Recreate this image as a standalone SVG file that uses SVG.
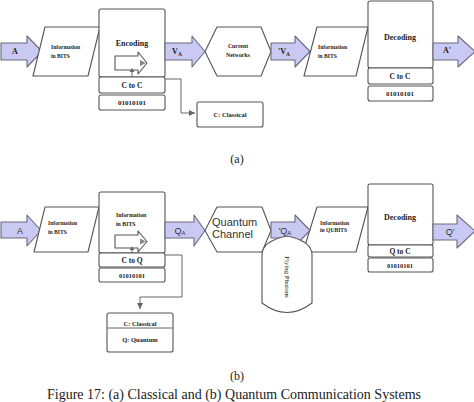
<svg xmlns="http://www.w3.org/2000/svg" width="474" height="402" viewBox="0 0 474 402">
<defs>
<style>
.bg{fill:#fff}
.arr{fill:#c9c9f3;stroke:#6a6a7a;stroke-width:1.1;stroke-linejoin:round}
.box{fill:#fff;stroke:#555;stroke-width:1.1;stroke-linejoin:round}
.line{fill:none;stroke:#666;stroke-width:1}
.sb{font-family:"Liberation Serif",serif;font-weight:bold;fill:#222;text-anchor:middle}
.sl{font-family:"Liberation Serif",serif;font-weight:bold;fill:#222}
.ss{font-family:"Liberation Sans",sans-serif;fill:#333;text-anchor:middle}
.cap{font-family:"Liberation Serif",serif;fill:#222;text-anchor:middle}
</style>
<marker id="ah" markerWidth="8" markerHeight="8" refX="6" refY="3" orient="auto" markerUnits="userSpaceOnUse">
<path d="M0,0 L6,3 L0,6 Z" fill="#666"/>
</marker>
</defs>
<rect class="bg" x="0" y="0" width="474" height="402"/>

<!-- ===== (a) ===== -->
<g id="a-arrow-A">
<path class="arr" d="M1,43 H27 V36 L42,51.5 L27,67 V60 H1 Z"/>
<text class="sb" x="15" y="54" font-size="8">A</text>
</g>
<g id="a-info1">
<polygon class="box" points="45,27 100,27 88,76 33,76"/>
<text class="sl" x="51" y="49" font-size="5.6">Information</text>
<text class="sl" x="51" y="58" font-size="5.6">in BITS</text>
</g>
<g id="a-encoding">
<rect class="box" x="99" y="9" width="66" height="68" rx="2"/>
<text class="sb" x="132" y="46" font-size="8">Encoding</text>
<path class="box" d="M115,56 H138 V52 L147,63 L138,74 V70 H115 Z"/>
<path d="M140,60 L146,63 L140,66 Z" fill="#888"/>
<path class="line" d="M132,77 V71"/>
<path d="M129.5,72 L132,68 L134.5,72 Z" fill="#666"/>
<rect class="box" x="99" y="77" width="66" height="16" rx="2"/>
<text class="sb" x="132" y="88" font-size="7.5">C to C</text>
<rect class="box" x="99" y="95" width="66" height="15" rx="2"/>
<text class="sb" x="132" y="105" font-size="7">01010101</text>
</g>
<g id="a-arrow-VA">
<path class="arr" d="M165,43 H192 V36 L205,51.5 L192,67 V60 H165 Z"/>
<text class="sb" x="177" y="54" font-size="8">V<tspan font-size="5.5" dy="2">A</tspan></text>
</g>
<g id="a-networks">
<polygon class="box" points="205,51.5 217,27 261,27 271,51.5 261,76 217,76"/>
<text class="sb" x="238" y="48" font-size="5.8">Current</text>
<text class="sb" x="238" y="57" font-size="5.8">Networks</text>
</g>
<g id="a-arrow-VA2">
<path class="arr" d="M271,43 H295 V36 L310,51.5 L295,67 V60 H271 Z"/>
<text class="sb" x="284" y="54" font-size="8">'V<tspan font-size="5.5" dy="2">A</tspan></text>
</g>
<g id="a-info2">
<polygon class="box" points="317,27 368,27 356,76 304,76"/>
<text class="sl" x="318" y="49" font-size="5.6">Information</text>
<text class="sl" x="318" y="58" font-size="5.6">in BITS</text>
</g>
<g id="a-decoding">
<rect class="box" x="368" y="1" width="65" height="67" rx="2"/>
<text class="sb" x="400" y="40" font-size="8">Decoding</text>
<rect class="box" x="368" y="68" width="65" height="16" rx="2"/>
<text class="sb" x="400" y="79" font-size="7.5">C to C</text>
<rect class="box" x="368" y="86" width="65" height="15" rx="2"/>
<text class="sb" x="400" y="96" font-size="7">01010101</text>
</g>
<g id="a-arrow-A2">
<path class="arr" d="M433,43 H458 V36 L475,51.5 L458,67 V60 H433 Z"/>
<text class="sb" x="447" y="53" font-size="8">A'</text>
</g>
<g id="a-classical">
<rect class="box" x="197" y="102" width="66" height="25" rx="2"/>
<text class="sb" x="230" y="117" font-size="6.5">C: Classical</text>
</g>
<text class="cap" x="237" y="163" font-size="12">(a)</text>

<!-- ===== (b) ===== -->
<g id="b-arrow-A">
<path class="arr" d="M1,222 H27 V215 L41,230.5 L27,246 V238 H1 Z"/>
<text class="ss" x="20" y="234" font-size="9">A</text>
</g>
<g id="b-info1">
<polygon class="box" points="45,207 99,207 88,252 34,252"/>
<text class="sl" x="48" y="225" font-size="5.6">Information</text>
<text class="sl" x="48" y="234" font-size="5.6">in BITS</text>
</g>
<g id="b-encoding">
<rect class="box" x="99" y="192" width="66" height="61" rx="2"/>
<text class="sl" x="116" y="217" font-size="5.8">Information</text>
<text class="sl" x="116" y="226" font-size="5.8">in BITS</text>
<path class="box" d="M115,235 H138 V231 L147,241.5 L138,252 V248 H115 Z"/>
<path d="M140,238.5 L146,241.5 L140,244.5 Z" fill="#888"/>
<path class="line" d="M132,253 V249"/>
<path d="M129.5,250 L132,246.5 L134.5,250 Z" fill="#666"/>
<rect class="box" x="99" y="253" width="66" height="14" rx="2"/>
<text class="sb" x="132" y="263" font-size="7.5">C to Q</text>
<rect class="box" x="99" y="268" width="66" height="14" rx="2"/>
<text class="sb" x="132" y="278" font-size="6.5">01010101</text>
</g>
<g id="b-arrow-QA">
<path class="arr" d="M165,222 H194 V215 L205,230.5 L194,246 V238 H165 Z"/>
<text class="ss" x="180" y="234" font-size="9">Q<tspan font-size="6" dy="1">A</tspan></text>
</g>
<g id="b-channel">
<polygon class="box" points="205,230.5 217,207 262,207 271,230.5 262,252 217,252"/>
<text x="212" y="226" font-family="Liberation Sans,sans-serif" font-size="11" fill="#333">Quantum</text>
<text x="212" y="238" font-family="Liberation Sans,sans-serif" font-size="11" fill="#333">Channel</text>
</g>
<g id="b-info2">
<polygon class="box" points="317,207 368,207 356,252 303,252"/>
<text class="sl" x="320" y="225" font-size="5.6">Information</text>
<text class="sl" x="320" y="232" font-size="5.6">in QUBITS</text>
</g>
<g id="b-arrow-QA2">
<path class="arr" d="M271,222 H295 V215 L310,230.5 L295,246 V238 H271 Z"/>
<text class="ss" x="285" y="234" font-size="9">'Q<tspan font-size="6" dy="1">A</tspan></text>
</g>
<g id="b-photons">
<path class="box" d="M262,303 V255 Q262,241 287,236 Q312,241 312,255 V303 Q287,322 262,303 Z"/>
<text class="sb" font-size="6.8" style="font-weight:normal" transform="translate(285,277) rotate(90)">Flying Photons</text>
</g>
<g id="b-decoding">
<rect class="box" x="368" y="184" width="65" height="61" rx="2"/>
<text class="sb" x="400" y="220" font-size="8">Decoding</text>
<rect class="box" x="368" y="245" width="65" height="12" rx="2"/>
<text class="sb" x="400" y="254" font-size="7.5">Q to C</text>
<rect class="box" x="368" y="258" width="65" height="14" rx="2"/>
<text class="sb" x="400" y="268" font-size="6.5">01010101</text>
</g>
<g id="b-arrow-Q2">
<path class="arr" d="M433,224 H457 V215 L475,231 L457,248 V240 H433 Z"/>
<text class="ss" x="450" y="235" font-size="9">Q'</text>
</g>
<g id="b-legend">
<rect class="box" x="107" y="313" width="66" height="39" rx="2"/>
<line class="line" x1="107" y1="328" x2="173" y2="328" stroke="#555"/>
<text class="sb" x="140" y="326" font-size="6.5">C: Classical</text>
<text class="sb" x="140" y="342" font-size="6.5">Q: Quantum</text>
</g>
<text class="cap" x="237" y="380" font-size="12">(b)</text>
<text class="cap" x="234" y="399" font-size="14">Figure 17: (a) Classical and (b) Quantum Communication Systems</text>

<g id="connectors">
<path class="line" d="M165,79 H181 V113 H195" marker-end="url(#ah)"/>
<path class="line" d="M165,255 H182 V297 H140 V309" marker-end="url(#ah)"/>
</g>
</svg>
